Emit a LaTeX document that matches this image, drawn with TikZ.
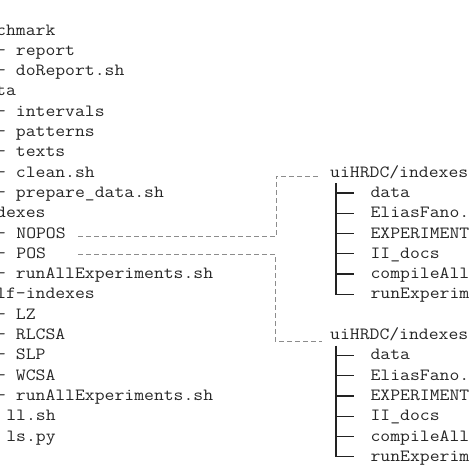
\documentclass[tikz,border=0pt]{standalone}
\usepackage{fontspec}
\setmonofont[FakeStretch=1.12]{Latin Modern Mono}
\usetikzlibrary{calc}
\definecolor{dirtext}{gray}{0.15}
\definecolor{linkgray}{gray}{0.55}
\tikzset{
  entry/.style={anchor=base west, inner sep=0pt, text=dirtext,
    font=\fontsize{17.1}{20}\selectfont\ttfamily},
  link/.style={draw=linkgray, line width=0.9pt, dash pattern=on 5pt off 3pt},
  branch/.style={draw=dirtext!90!black, line width=1.3pt}
}
\begin{document}
\begin{tikzpicture}[x=1pt,y=-1pt]
    \useasboundingbox (0,0) rectangle (474,474);
    \clip (0,0) rectangle (474,474);
    % left listing, first column cut by the border
    \node[entry] (l0) at (-4,35) {chmark};
    \node[entry] (l1) at (-4,55.3) {- report};
    \node[entry] (l2) at (-4,75.6) {- doReport.sh};
    \node[entry] (l3) at (-4,95.9) {ta};
    \node[entry] (l4) at (-4,116.2) {- intervals};
    \node[entry] (l5) at (-4,136.5) {- patterns};
    \node[entry] (l6) at (-4,156.8) {- texts};
    \node[entry] (l7) at (-4,177.1) {- clean.sh};
    \node[entry] (l8) at (-4,197.4) {- prepare\_data.sh};
    \node[entry] (l9) at (-4,217.7) {dexes};
    \node[entry] (l10) at (-4,238) {-};
    \node[entry] (nopos) at (16.2,238) {NOPOS};
    \node[entry] (l11) at (-4,258.3) {-};
    \node[entry] (pos) at (16.2,258.3) {POS};
    \node[entry] (l12) at (-4,278.6) {- runAllExperiments.sh};
    \node[entry] (l13) at (-4,298.9) {lf-indexes};
    \node[entry] (l14) at (-4,319.2) {- LZ};
    \node[entry] (l15) at (-4,339.5) {- RLCSA};
    \node[entry] (l16) at (-4,359.8) {- SLP};
    \node[entry] (l17) at (-4,380.1) {- WCSA};
    \node[entry] (l18) at (-4,400.4) {- runAllExperiments.sh};
    \node[entry] (l19) at (6.1,420.7) {ll.sh};
    \node[entry] (l20) at (6.1,441) {ls.py};
    % upper tree
    \node[entry] (r1) at (330,177.1) {uiHRDC/indexes};
    \node[entry] (a1) at (370.4,197.4) {data};
    \node[entry] (a2) at (370.4,217.7) {EliasFano.};
    \node[entry] (a3) at (370.4,238) {EXPERIMENT};
    \node[entry] (a4) at (370.4,258.3) {II\_docs};
    \node[entry] (a5) at (370.4,278.6) {compileAll};
    \node[entry] (a6) at (370.4,298.9) {runExperim};
    % lower tree
    \node[entry] (r2) at (330,339.5) {uiHRDC/indexes};
    \node[entry] (b1) at (370.4,359.8) {data};
    \node[entry] (b2) at (370.4,380.1) {EliasFano.};
    \node[entry] (b3) at (370.4,400.4) {EXPERIMENT};
    \node[entry] (b4) at (370.4,420.7) {II\_docs};
    \node[entry] (b5) at (370.4,441) {compileAll};
    \node[entry] (b6) at (370.4,461.3) {runExperim};
    % tree branches
    \foreach \n in {a1,a2,a3,a4,a5,b1,b2,b3,b4,b5}
        \path[branch] ([xshift=-34.4pt,yshift=4.5pt]\n.base west) -- ++(18,0);
    \path[branch] ([xshift=6pt,yshift=-6pt]r1.base west) |- ([xshift=-16.4pt,yshift=4.5pt]a6.base west);
    \path[branch] ([xshift=6pt,yshift=-6pt]r2.base west) |- ([xshift=-16.4pt,yshift=4.5pt]b6.base west);
    % dashed links
    \coordinate (nopos-out) at (78,236.7);
    \coordinate (pos-out) at (78,254.2);
    \path[link] (nopos-out) -| ([xshift=-54pt,yshift=1pt]r1.base west) -- ([xshift=-10pt,yshift=1pt]r1.base west);
    \path[link] (pos-out) -| ([xshift=-55pt,yshift=-1.5pt]r2.base west) -- ([xshift=-8pt,yshift=-1.5pt]r2.base west);
\end{tikzpicture}
\end{document}
